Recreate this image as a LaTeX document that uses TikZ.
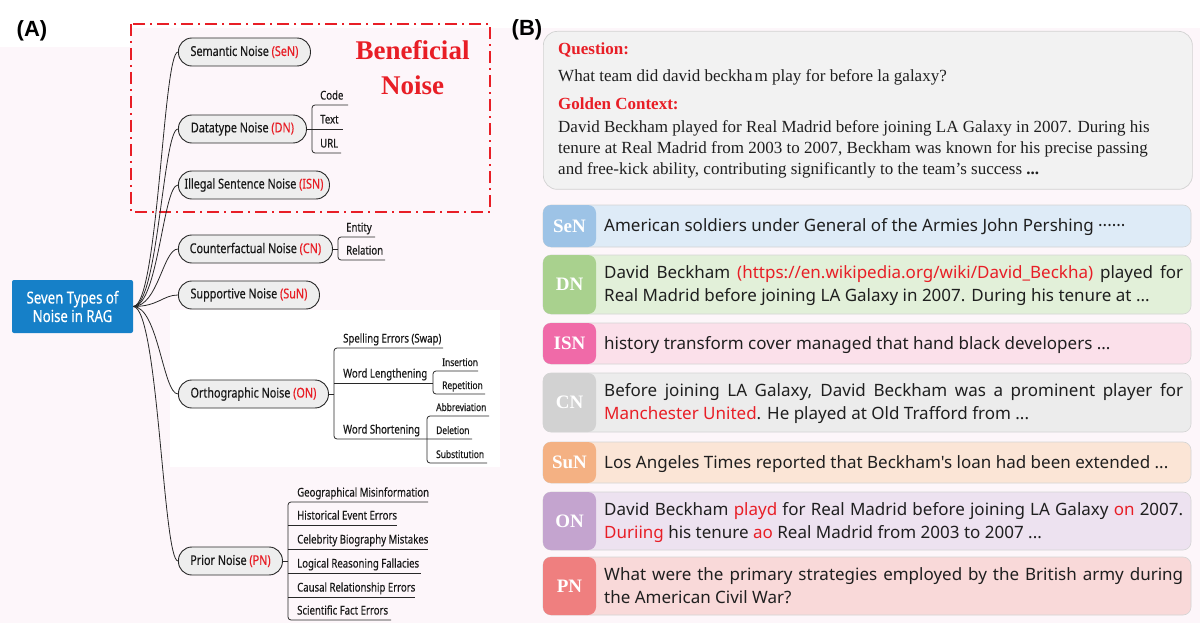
\documentclass[tikz,border=0pt]{standalone}
\usepackage{fontspec}
\setmainfont{Liberation Serif}
\newfontfamily\treefont{Noto Sans}[FakeStretch=0.8,FakeBold=0.35]
\newfontfamily\bodyfont{Noto Sans}
\newfontfamily\headfont{Liberation Sans}
\usetikzlibrary{calc}
\definecolor{pinkbg}{RGB}{253,246,250}
\definecolor{nred}{RGB}{232,30,38}
\definecolor{rootblue}{RGB}{22,128,200}
\definecolor{bubblefill}{RGB}{238,238,238}
\definecolor{treeline}{RGB}{40,40,40}
\definecolor{qfill}{RGB}{242,242,242}
\definecolor{qborder}{RGB}{210,210,210}
\definecolor{boxborder}{RGB}{212,212,212}
\definecolor{senL}{RGB}{157,195,230}\definecolor{senB}{RGB}{222,235,247}
\definecolor{dnL}{RGB}{169,209,142}\definecolor{dnB}{RGB}{226,240,217}
\definecolor{isnL}{RGB}{240,106,168}\definecolor{isnB}{RGB}{251,224,234}
\definecolor{cnL}{RGB}{210,210,210}\definecolor{cnB}{RGB}{236,236,236}
\definecolor{sunL}{RGB}{244,177,131}\definecolor{sunB}{RGB}{251,229,214}
\definecolor{onL}{RGB}{196,164,207}\definecolor{onB}{RGB}{237,226,240}
\definecolor{pnL}{RGB}{239,127,127}\definecolor{pnB}{RGB}{249,217,217}
\tikzset{
  tline/.style={draw=treeline, line width=0.8pt},
  bubble/.style={draw=treeline, line width=0.9pt, fill=bubblefill, rounded corners=13.5pt,
    minimum height=28pt, inner xsep=0pt, inner ysep=0pt, anchor=west, text=black!90,
    font=\treefont\fontsize{13.5}{16}\selectfont},
  brlab/.style={font=\treefont\fontsize{12}{14}\selectfont, anchor=base west, inner sep=0pt, text=black!90},
  sublab/.style={font=\treefont\fontsize{10.5}{12}\selectfont, anchor=base west, inner sep=0pt, text=black!90},
  qtext/.style={font=\fontsize{17}{21}\selectfont, anchor=base west, inner sep=0pt, text=black!88},
  qhead/.style={font=\bfseries\fontsize{17}{21}\selectfont, anchor=base west, inner sep=0pt, text=nred},
  nbox/.style={draw=boxborder, line width=0.6pt, rounded corners=8pt, minimum width=648pt, inner sep=0pt},
  nlab/.style={rounded corners=8pt, minimum width=53pt, inner sep=0pt, text=white,
    font=\bfseries\fontsize{19}{19}\selectfont},
  ntext/.style={font=\bodyfont\fontsize{17}{22}\selectfont, anchor=base west, inner sep=0pt, text=black!88},
}
\newcommand{\jline}[1]{\makebox[579pt][s]{#1}}
\begin{document}
\begin{tikzpicture}[x=1pt,y=-1pt]
\useasboundingbox (0,0) rectangle (1200,623);
% backgrounds
\fill[pinkbg] (0,0) rectangle (1200,623);
\fill[white] (0,0) rectangle (1200,28);
\fill[white] (0,0) rectangle (130,47);
\fill[white] (170,310) rectangle (500,467);

% panel labels
\node[font=\headfont\bfseries\fontsize{22}{22}\selectfont, inner sep=0pt] (labA) at (32,31) {(A)};
\node[font=\headfont\bfseries\fontsize{22}{22}\selectfont, inner sep=0pt] (labB) at (527,30) {(B)};

% ---------------- left: mind map ----------------
\draw[nred, line width=1.8pt, dash pattern=on 12pt off 5pt on 2pt off 5pt] (131,24) rectangle (490,212);
\node[font=\bfseries\fontsize{27}{35}\selectfont, text=nred, align=center, inner sep=0pt] (ben) at (412.5,67.5) {Beneficial\\Noise};

\node[fill=rootblue, rounded corners=2pt, minimum width=121pt, minimum height=53pt, inner sep=0pt,
      text=white, align=center, font=\treefont\fontsize{16.5}{18.5}\selectfont] (root) at (72.5,306.5) {Seven Types of\\Noise in RAG};

\node[bubble, minimum width=132pt] (sen) at (178,52) {Semantic Noise \textcolor{nred}{(SeN)}};
\node[bubble, minimum width=128pt] (dn) at (178,129) {Datatype Noise \textcolor{nred}{(DN)}};
\node[bubble, minimum width=151pt] (isn) at (178,185) {Illegal Sentence Noise \textcolor{nred}{(ISN)}};
\node[bubble, minimum width=154pt] (cn) at (178,249) {Counterfactual Noise \textcolor{nred}{(CN)}};
\node[bubble, minimum width=141pt] (sun) at (178,295) {Supportive Noise \textcolor{nred}{(SuN)}};
\node[bubble, minimum width=150pt] (on) at (178,394) {Orthographic Noise \textcolor{nred}{(ON)}};
\node[bubble, minimum width=104pt] (pn) at (178,561) {Prior Noise \textcolor{nred}{(PN)}};

\foreach \n in {sen,dn,isn,cn,sun,on,pn}
  \draw[tline] (root.east) .. controls +(25,0) and +(-15,0) .. (\n.west);

% DN branches
\draw[tline] (dn.east) -- (343,129);
\draw[tline, rounded corners=3pt] (348,105) -- (312,105) -- (312,153) -- (341,153);
\node[brlab] (code) at (320,99.5) {Code};
\node[brlab] (text) at (320,123.5) {Text};
\node[brlab] (url) at (320,147.5) {URL};

% CN branches
\draw[tline] (cn.east) -- (338,249);
\draw[tline, rounded corners=3pt] (375,237) -- (338,237) -- (338,260) -- (385,260);
\node[brlab] (entity) at (346,231.5) {Entity};
\node[brlab] (relation) at (346,254.5) {Relation};

% ON branches
\draw[tline] (on.east) -- (334,394);
\draw[tline, rounded corners=3pt] (443,348) -- (334,348) -- (334,439) -- (472,439);
\draw[tline] (334,383) -- (433,383);
\draw[tline, rounded corners=3pt] (478,371) -- (433,371) -- (433,394) -- (485,394);
\draw[tline, rounded corners=3pt] (489,416) -- (427,416) -- (427,463) -- (487,463);
\node[brlab] (spell) at (343,342.5) {Spelling Errors (Swap)};
\node[brlab] (wlen) at (343,377.5) {Word Lengthening};
\node[brlab] (wshort) at (343,433.5) {Word Shortening};
\node[sublab] (ins) at (442,366) {Insertion};
\node[sublab] (rep) at (442,389) {Repetition};
\node[sublab] (abb) at (436,411) {Abbreviation};
\node[sublab] (del) at (436,434) {Deletion};
\node[sublab] (sub) at (436,458) {Substitution};

% PN branches
\draw[tline] (pn.east) -- (288,561);
\draw[tline, rounded corners=3pt] (428,502) -- (288,502) -- (288,620) -- (391,620);
\draw[tline] (288,525) -- (397,525);
\draw[tline] (288,549) -- (428,549);
\draw[tline] (288,573) -- (421,573);
\draw[tline] (288,597) -- (415,597);
\node[brlab] (geo) at (297,496.5) {Geographical Misinformation};
\node[brlab] (hist) at (297,519.5) {Historical Event Errors};
\node[brlab] (celeb) at (297,543.5) {Celebrity Biography Mistakes};
\node[brlab] (logic) at (297,567.5) {Logical Reasoning Fallacies};
\node[brlab] (causal) at (297,591.5) {Causal Relationship Errors};
\node[brlab] (sci) at (297,614.5) {Scientific Fact Errors};

% ---------------- right: examples ----------------
\node[draw=qborder, fill=qfill, line width=0.7pt, rounded corners=14pt, minimum width=649pt, minimum height=158pt,
      anchor=north west, inner sep=0pt] (qbox) at (543,31) {};
\node[qhead] (qh) at (558,55) {Question:};
\node[qtext] (q) at (558,82) {What team did david beckha\hspace{2pt}m play for before la galaxy?};
\node[qhead] (gh) at (558,110) {Golden Context:};
\node[qtext] (g1) at (558,133) {David Beckham played for Real Madrid before joining LA Galaxy in 2007. During his};
\node[qtext] (g2) at (558,154) {tenure at Real Madrid from 2003 to 2007, Beckham was known for his precise passing};
\node[qtext] (g3) at (558,175) {and free-kick ability, contributing significantly to the team's success \textbf{...}};

% SeN
\node[nbox, fill=senB, minimum height=42pt] (senbox) at (867,226) {};
\node[nlab, fill=senL, minimum height=42pt] (senlab) at (569.5,226) {SeN};
\node[ntext] (sent) at (604,231.5) {American soldiers under General of the Armies John Pershing ······};
% DN
\node[nbox, fill=dnB, minimum height=59pt] (dnbox) at (867,284.5) {};
\node[nlab, fill=dnL, minimum height=59pt] (dnlab) at (569.5,284.5) {DN};
\node[ntext] (dnt1) at (604,278.5) {\jline{David Beckham \textcolor{nred}{(https://en.wikipedia.org/wiki/David\_Beckha)} played for}};
\node[ntext] (dnt2) at (604,301.5) {Real Madrid before joining LA Galaxy in 2007. During his tenure at \textbf{...}};
% ISN
\node[nbox, fill=isnB, minimum height=41pt] (isnbox) at (867,343.5) {};
\node[nlab, fill=isnL, minimum height=41pt] (isnlab) at (569.5,343.5) {ISN};
\node[ntext] (isnt) at (604,349) {history transform cover managed that hand black developers \textbf{...}};
% CN
\node[nbox, fill=cnB, minimum height=59pt] (cnbox) at (867,402.5) {};
\node[nlab, fill=cnL, minimum height=59pt] (cnlab) at (569.5,402.5) {CN};
\node[ntext] (cnt1) at (604,396.5) {\jline{Before joining LA Galaxy, David Beckham was a prominent player for}};
\node[ntext] (cnt2) at (604,419.5) {\textcolor{nred}{Manchester United}. He played at Old Trafford from \textbf{...}};
% SuN
\node[nbox, fill=sunB, minimum height=41pt] (sunbox) at (867,462.5) {};
\node[nlab, fill=sunL, minimum height=41pt] (sunlab) at (569.5,462.5) {SuN};
\node[ntext] (sunt) at (604,468) {Los Angeles Times reported that Beckham's loan had been extended \textbf{...}};
% ON
\node[nbox, fill=onB, minimum height=58pt] (onbox) at (867,521) {};
\node[nlab, fill=onL, minimum height=58pt] (onlab) at (569.5,521) {ON};
\node[ntext] (ont1) at (604,515) {\jline{David Beckham \textcolor{nred}{playd} for Real Madrid before joining LA Galaxy \textcolor{nred}{on} 2007.}};
\node[ntext] (ont2) at (604,538) {\textcolor{nred}{Duriing} his tenure \textcolor{nred}{ao} Real Madrid from 2003 to 2007 \textbf{...}};
% PN
\node[nbox, fill=pnB, minimum height=58pt] (pnbox) at (867,586) {};
\node[nlab, fill=pnL, minimum height=58pt] (pnlab) at (569.5,586) {PN};
\node[ntext] (pnt1) at (604,580) {\jline{What were the primary strategies employed by the British army during}};
\node[ntext] (pnt2) at (604,603) {the American Civil War?};
\end{tikzpicture}
\end{document}
